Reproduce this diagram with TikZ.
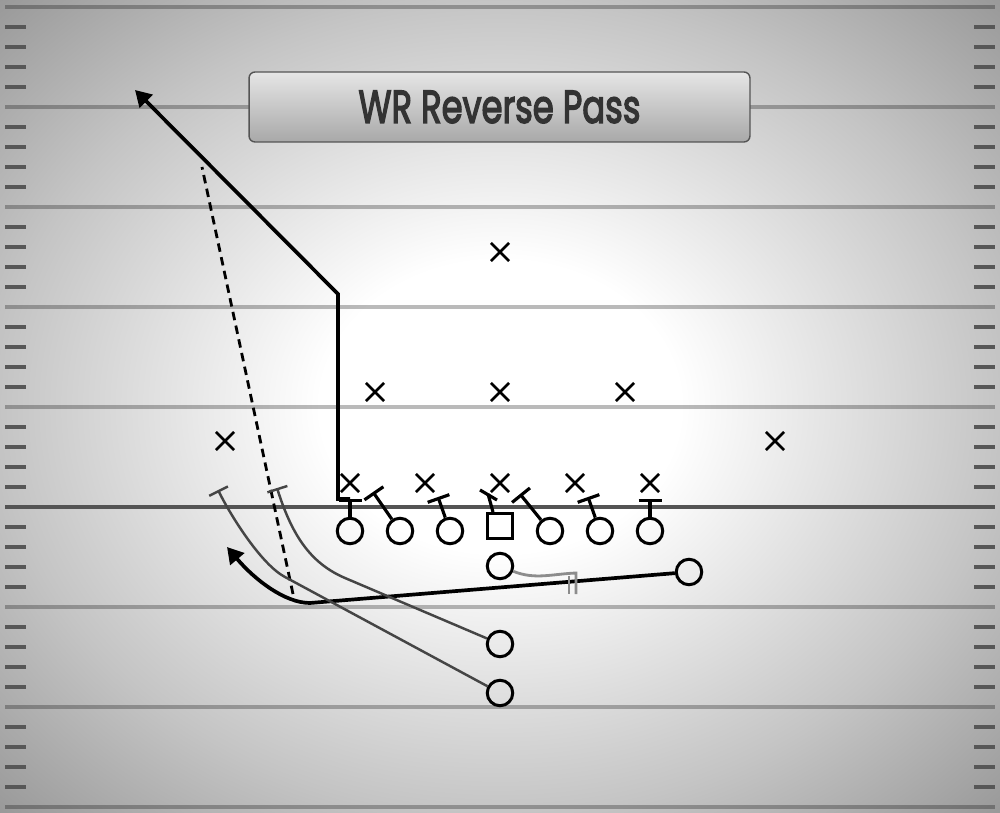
\documentclass[tikz,border=0pt]{standalone}
\usepackage{fontspec}
\usetikzlibrary{arrows.meta,shapes.misc,calc}
\newfontfamily\titlefont{Poppins}
\definecolor{bgmid}{gray}{0.77}
\definecolor{bgdark}{gray}{0.60}
\definecolor{tickc}{gray}{0.34}
\definecolor{losc}{gray}{0.33}
\definecolor{boxtop}{gray}{0.90}
\definecolor{boxbot}{gray}{0.66}
\definecolor{boxline}{gray}{0.33}
\definecolor{titlec}{gray}{0.20}
\definecolor{routegray}{gray}{0.27}
\definecolor{pitchgray}{gray}{0.55}
\pgfdeclareradialshading{fieldbg}{\pgfpointorigin}{color(0bp)=(white); color(9bp)=(white); color(25bp)=(bgmid); color(35.4bp)=(bgdark); color(50bp)=(bgdark)}
\tikzset{
  yardline/.style={line width=0.08cm, black, opacity=0.27},
  hashtick/.style={line width=0.08cm, tickc},
  losline/.style={line width=0.08cm, losc},
  titlebox/.style={rectangle, rounded corners=0.12cm, draw=boxline, line width=0.8pt,
     top color=boxtop, bottom color=boxbot, minimum width=10.02cm, minimum height=1.4cm,
     inner sep=0pt, text=titlec},
  player/.style={circle, draw=black, line width=1.7pt, minimum size=0.51cm, inner sep=0pt},
  snapper/.style={rectangle, draw=black, line width=1.7pt, minimum size=0.5cm, inner sep=0pt},
  defender/.style={cross out, draw=black, line width=1.5pt, minimum size=0.31cm, inner sep=0pt},
  block/.style={line width=1.8pt, -{Bar[width=0.46cm]}},
  blockbar/.style={line width=1.8pt},
  route/.style={line width=2.1pt, line join=miter, -{Triangle[length=0.32cm, width=0.36cm]}},
  grayroute/.style={draw=routegray, line width=1.4pt, -{Bar[width=0.42cm]}},
  pass/.style={line width=1.6pt, dash pattern=on 0.17cm off 0.11cm},
  pitch/.style={draw=pitchgray, line width=1.6pt}
}
\begin{document}
\begin{tikzpicture}[x=0.02cm, y=-0.02cm]
\useasboundingbox (0,0) rectangle (1000,813);
\shade[shading=fieldbg] (0,0) rectangle (1000,813);
% yard lines
\foreach \y in {7,107,207,307,407,607,707,807}
  \draw[yardline] (5,\y) -- (995,\y);
\draw[losline] (5,507) -- (995,507);
% hash ticks
\foreach \b in {7,107,207,307,407,507,607,707}
  \foreach \k in {20,40,60,80} {
    \draw[hashtick] (5,{\b+\k}) -- (26,{\b+\k});
    \draw[hashtick] (974,{\b+\k}) -- (995,{\b+\k});
  }
% title
\node[titlebox] (title) at (499.5,107)
  {\resizebox{5.64cm}{0.64cm}{\titlefont\special{pdf:literal direct 2 Tr 0.35 w}WR Reverse Pass\special{pdf:literal direct 0 Tr}}};
% offense
\node[player] (ol1) at (350,531) {};
\node[player] (ol2) at (400,531) {};
\node[player] (ol3) at (450,531) {};
\node[snapper] (c) at (500,526) {};
\node[player] (ol5) at (550,531) {};
\node[player] (ol6) at (600,531) {};
\node[player] (ol7) at (650,531) {};
\node[player] (qb) at (500,566) {};
\node[player] (wr) at (689,572) {};
\node[player] (rb1) at (500,644) {};
\node[player] (rb2) at (500,693) {};
% defense
\node[defender] (d1) at (500,252) {};
\node[defender] (d2) at (375,392) {};
\node[defender] (d3) at (500,392) {};
\node[defender] (d4) at (625,392) {};
\node[defender] (d5) at (225,441) {};
\node[defender] (d6) at (775,441) {};
\node[defender] (dl1) at (350,483) {};
\node[defender] (dl2) at (425,483) {};
\node[defender] (dl3) at (500,483) {};
\node[defender] (dl4) at (575,483) {};
\node[defender] (dl5) at (650,483) {};
% blocks
\coordinate (b1) at (350,499);
\coordinate (b2) at (373,492);
\coordinate (b3) at (438,497);
\coordinate (b4) at (488,494);
\coordinate (b5) at (520,494);
\coordinate (b6) at (588,497);
\coordinate (b7) at (650,499);
\draw[block] (ol1) -- (b1);
\draw[block] (ol2) -- (b2);
\draw[block] (ol3) -- (b3);
\draw[blockbar] ($(c.north)+(-7,0)$) -- (b4);
\draw[blockbar] ($(b4)+(-8,-4)$) -- ($(b4)+(9,6)$);
\draw[block] (ol5) -- (b5);
\draw[block] (ol6) -- (b6);
\draw[block] (ol7) -- (b7);
% main receiver route
\coordinate (r1) at (338,499);
\coordinate (r2) at (338,294);
\coordinate (r3) at (135,90);
\draw[route] (b1) -- (r1) -- (r2) -- (r3);
% pass
\coordinate (p0) at (293,594);
\coordinate (p1) at (202,167);
\draw[pass] (p0) -- (p1);
% WR reverse route
\coordinate (w1) at (310,603);
\coordinate (w2) at (227,547);
\draw[route] (wr) -- (w1) .. controls (285,603) and (255,580) .. (w2);
% backs
\coordinate (g1) at (345,578);
\coordinate (g2) at (277,488);
\draw[grayroute] (rb1) -- (g1) .. controls (310,563) and (292,535) .. (g2);
\coordinate (h1) at (285,577);
\coordinate (h2) at (218,490);
\draw[grayroute] (rb2) -- (h1) .. controls (262,565) and (232,518) .. (h2);
% pitch mark
\coordinate (k1) at (576,573);
\coordinate (k2) at (576,594);
\coordinate (k3) at (569,576);
\coordinate (k4) at (569,594);
\draw[pitch] (qb) .. controls (535,580) and (552,574) .. (k1) -- (k2);
\draw[pitch] (k3) -- (k4);
\end{tikzpicture}
\end{document}
